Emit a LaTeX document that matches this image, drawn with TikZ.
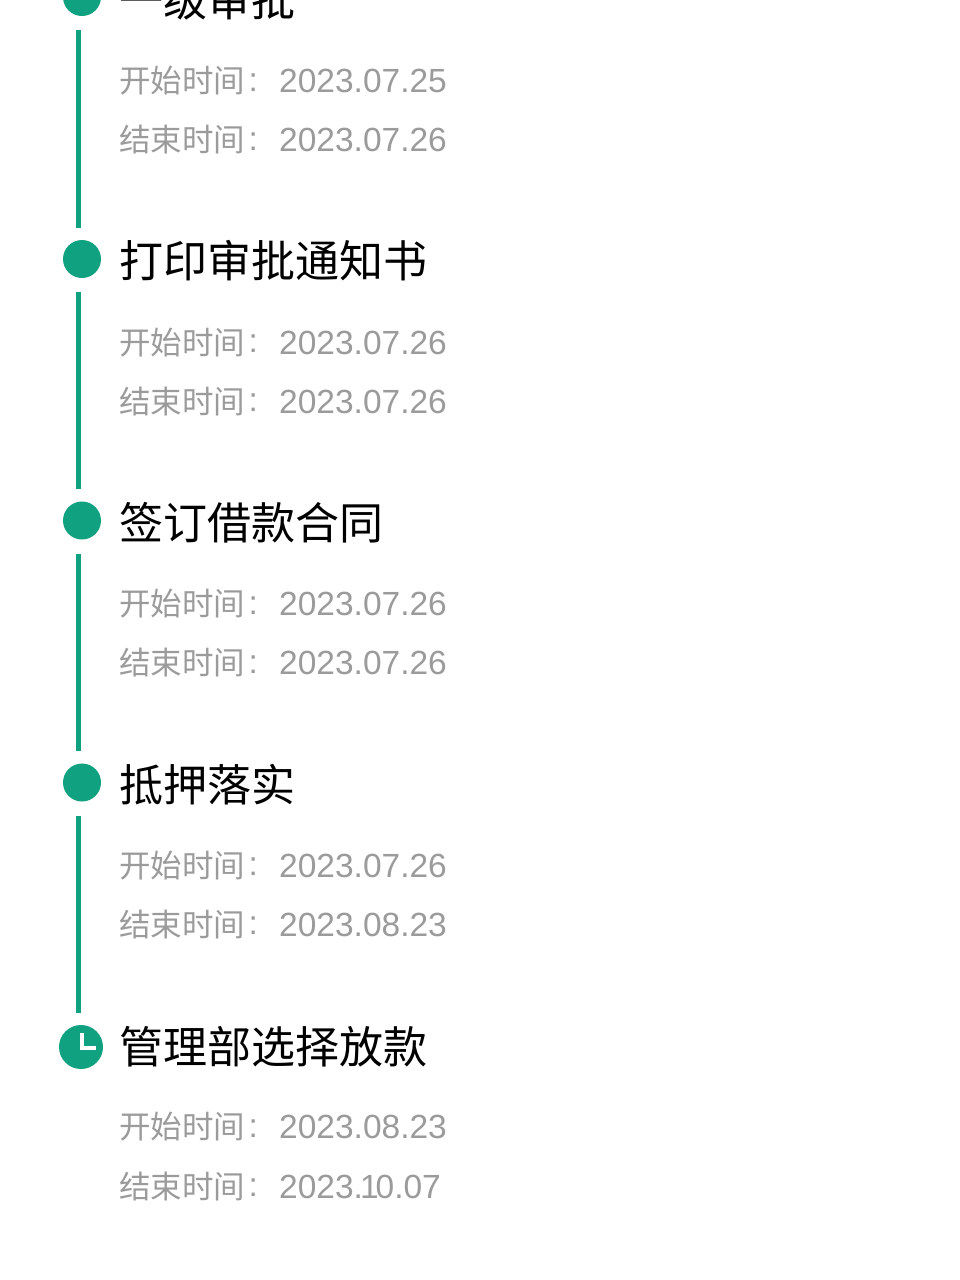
\documentclass[tikz,border=0pt]{standalone}
\usepackage{fontspec}
\setmainfont{Liberation Sans}
\newfontfamily\cjk{Noto Sans CJK SC}
\definecolor{stemgreen}{HTML}{0FA180}
\definecolor{lightgray}{HTML}{9B9B9B}
\newcommand{\datecolon}{\makebox[34pt][l]{\hspace{3.5pt}\raisebox{1.5pt}{:}}}
\newcommand{\startcap}{{\fontsize{31.5}{31.5}\selectfont\cjk 开始时间}\datecolon}
\newcommand{\finishcap}{{\fontsize{31.5}{31.5}\selectfont\cjk 结束时间}\datecolon}

\begin{document}
\begin{tikzpicture}[
        x=1pt, y=-1pt,
        stagedot/.style = {circle, fill=stemgreen, inner sep=0pt, minimum size=38pt}, % Точка этапа
        clockdot/.style = {circle, fill=stemgreen, inner sep=0pt, minimum size=44pt},
        stem/.style = {draw=stemgreen, line width=5.5pt},
        hand/.style = {draw=white, line width=3.5pt},
        stagetitle/.style = {anchor=west, inner sep=0pt, font=\fontsize{44}{44}\selectfont\cjk},
        datetext/.style = {anchor=west, inner sep=0pt, text=lightgray, font=\fontsize{33.5}{33.5}\selectfont},
    ]
    \useasboundingbox (0,0) rectangle (960,1280);
    \fill[white] (0,0) rectangle (960,1280);

    % Точки этапов
    \node[stagedot] (dota) at (82,-3) {};
    \node[stagedot] (dotb) at (82,259) {};
    \node[stagedot] (dotc) at (82,520.5) {};
    \node[stagedot] (dotd) at (82,782.5) {};
    \node[clockdot] (dote) at (81,1047) {};

    % Названия этапов
    \node[stagetitle] (titlea) at (119,0) {一级审批};
    \node[stagetitle] (titleb) at (119,261) {打印审批通知书};
    \node[stagetitle] (titlec) at (119,523) {签订借款合同};
    \node[stagetitle] (titled) at (119,784.5) {抵押落实};
    \node[stagetitle] (titlee) at (119,1047) {管理部选择放款};

    % Даты
    \node[datetext] (starta) at (119,81) {\startcap 2023.07.25};
    \node[datetext] (enda) at (119,140) {\finishcap 2023.07.26};
    \node[datetext] (startb) at (119,342.5) {\startcap 2023.07.26};
    \node[datetext] (endb) at (119,401.5) {\finishcap 2023.07.26};
    \node[datetext] (startc) at (119,604) {\startcap 2023.07.26};
    \node[datetext] (endc) at (119,663) {\finishcap 2023.07.26};
    \node[datetext] (startd) at (119,865.5) {\startcap 2023.07.26};
    \node[datetext] (endd) at (119,924.5) {\finishcap 2023.08.23};
    \node[datetext] (starte) at (119,1127) {\startcap 2023.08.23};
    \node[datetext] (ende) at (119,1186) {\finishcap 2023.\kern-3pt 1\kern-3pt 0.07};

    % Линии между этапами
    \draw[stem] ([xshift=-3.5pt,yshift=-14pt]dota.south) -- ([xshift=-3.5pt,yshift=12pt]dotb.north);
    \draw[stem] ([xshift=-3.5pt,yshift=-14pt]dotb.south) -- ([xshift=-3.5pt,yshift=12pt]dotc.north);
    \draw[stem] ([xshift=-3.5pt,yshift=-14pt]dotc.south) -- ([xshift=-3.5pt,yshift=12pt]dotd.north);
    \draw[stem] ([xshift=-3.5pt,yshift=-14pt]dotd.south) -- ([xshift=-2.5pt,yshift=12pt]dote.north);

    % Стрелки часов
    \draw[hand] ([xshift=1pt,yshift=-8pt]dote.north) -- ([xshift=1pt,yshift=-1pt]dote.center) -- ([xshift=15pt,yshift=-1pt]dote.center);
\end{tikzpicture}
\end{document}
